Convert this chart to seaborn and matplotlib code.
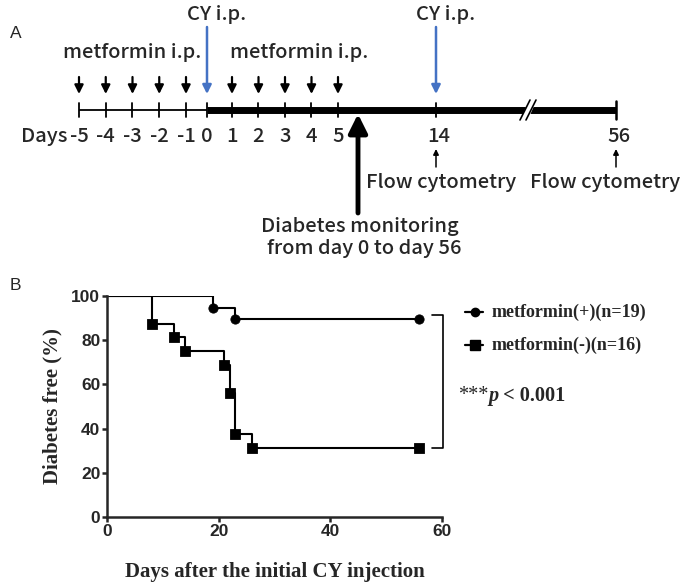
import numpy as np
import matplotlib
matplotlib.use('Agg')
import matplotlib.pyplot as plt
import seaborn as sns

# Panel B: Kaplan-Meier style diabetes-free curves
plus_days = [0, 19, 23, 56]
plus_free = [100, 94.7, 89.5, 89.5]
minus_days = [0, 8, 12, 14, 21, 22, 23, 26, 56]
minus_free = [100, 87.5, 81.25, 75, 68.75, 56.25, 37.5, 31.25, 31.25]
plus_label = 'metformin(+)(n=19)'
minus_label = 'metformin(-)(n=16)'
p_text = ['***', 'p', ' < 0.001']

# Panel A: timeline
tick_days = [-5, -4, -3, -2, -1, 0, 1, 2, 3, 4, 5, 14, 56]
metformin_days = [-5, -4, -3, -2, -1, 1, 2, 3, 4, 5]
cy_days = [0, 14]
flow_days = [14, 56]

sns.set_style('ticks')
plt.rcParams['font.family'] = ['Liberation Sans', 'DejaVu Sans']

fig = plt.figure(figsize=(6.85, 5.82), dpi=100)

# overlay axes in pixel coordinates for the timeline drawing
ax0 = fig.add_axes([0, 0, 1, 1])
ax0.set_xlim(0, 685)
ax0.set_ylim(582, 0)
ax0.axis('off')

knot_days = [-5, -1, 0, 1, 5, 14, 56]
knot_px = [79, 186, 207, 232, 338, 436, 616]


def dx(d):
    return np.interp(d, knot_days, knot_px)


jp = dict(family=['Noto Sans CJK JP', 'DejaVu Sans'], fontsize=14.5, weight='medium')
LY = 110

ax0.plot([dx(-5), dx(0)], [LY, LY], color='black', lw=1.3, solid_capstyle='butt')
ax0.plot([dx(0), dx(56)], [LY, LY], color='black', lw=5, solid_capstyle='butt')
for d in tick_days[:-1]:
    ax0.plot([dx(d), dx(d)], [LY - 7, LY + 7], color='black', lw=1.3)
ax0.plot([dx(56), dx(56)], [LY - 9, LY + 9], color='black', lw=1.8)

# axis break
ax0.fill([521, 530, 536, 527], [120, 100, 100, 120], color='white', zorder=3)
ax0.plot([520, 530], [120, 100], color='black', lw=1.2, zorder=4)
ax0.plot([526, 536], [120, 100], color='black', lw=1.2, zorder=4)

# tick labels
ax0.text(44, 137, 'Days', ha='center', va='center', **jp)
for d in tick_days:
    ax0.text(dx(d) + (3 if d >= 14 else 0), 137, str(d), ha='center', va='center', **jp)

# metformin injections
for d in metformin_days:
    ax0.annotate('', xy=(dx(d), 94), xytext=(dx(d), 77),
                 arrowprops=dict(arrowstyle='-|>', color='black', lw=1.6,
                                 mutation_scale=13, shrinkA=0, shrinkB=0))
ax0.text(132, 53, 'metformin i.p.', ha='center', va='center', **jp)
ax0.text(299, 53, 'metformin i.p.', ha='center', va='center', **jp)

# CY injections
for d in cy_days:
    ax0.annotate('', xy=(dx(d), 94), xytext=(dx(d), 27),
                 arrowprops=dict(arrowstyle='-|>', color='#4472C4', lw=1.8,
                                 mutation_scale=13, shrinkA=0, shrinkB=0))
    ax0.text(dx(d) + 10, 15, 'CY i.p.', ha='center', va='center', **jp)

# flow cytometry
for d, tx in zip(flow_days, [441, 605]):
    ax0.annotate('', xy=(dx(d), 149), xytext=(dx(d), 167),
                 arrowprops=dict(arrowstyle='-|>', color='black', lw=1.1,
                                 mutation_scale=8, shrinkA=0, shrinkB=0))
    ax0.text(tx, 182, 'Flow cytometry', ha='center', va='center', **jp)

# diabetes monitoring
ax0.annotate('', xy=(358, 114), xytext=(358, 213),
             arrowprops=dict(arrowstyle='-|>', color='black', lw=3.5,
                             mutation_scale=28, shrinkA=0, shrinkB=0))
ax0.text(360, 226, 'Diabetes monitoring', ha='center', va='center', **jp)
ax0.text(364, 248, 'from day 0 to day 56', ha='center', va='center', **jp)

fig.text(10 / 685, 1 - 33 / 582, 'A', fontsize=12.5, ha='left', va='center')
fig.text(10 / 685, 1 - 285 / 582, 'B', fontsize=12.5, ha='left', va='center')

# Panel B
ax = fig.add_axes([107 / 685, 65 / 582, 334.7 / 685, 221 / 582])
ax.set_facecolor('none')
sns.lineplot(x=plus_days, y=plus_free, drawstyle='steps-post', color='black',
             lw=1.5, ax=ax, estimator=None, sort=False)
sns.lineplot(x=minus_days, y=minus_free, drawstyle='steps-post', color='black',
             lw=1.5, ax=ax, estimator=None, sort=False)
sns.scatterplot(x=plus_days[1:], y=plus_free[1:], marker='o', s=45, color='black',
                edgecolor='black', ax=ax, clip_on=False, zorder=3)
sns.scatterplot(x=minus_days[1:], y=minus_free[1:], marker='s', s=55, color='black',
                edgecolor='black', ax=ax, clip_on=False, zorder=3)

ax.set_xlim(0, 60)
ax.set_ylim(0, 100)
ax.set_xticks([0, 20, 40, 60])
ax.set_yticks([0, 20, 40, 60, 80, 100])
sns.despine(ax=ax)
for s in ['left', 'bottom']:
    ax.spines[s].set_linewidth(1.8)
ax.tick_params(direction='out', length=3.8, width=1.8, labelsize=12.5, pad=1)
for lab in ax.get_xticklabels() + ax.get_yticklabels():
    lab.set_fontweight('bold')

serif = dict(family=['Liberation Serif', 'DejaVu Serif'], weight='bold')
ax.set_xlabel('Days after the initial CY injection', fontsize=15, **serif)
ax.set_ylabel('Diabetes free (%)', fontsize=15, **serif)
ax.xaxis.set_label_coords(0.502, -0.205)
ax.yaxis.set_label_coords(-0.134, 0.5)

# bracket
ax.plot([58.2, 60.2, 60.2, 58.2], [91.4, 91.4, 31.25, 31.25], color='black',
        lw=1.2, clip_on=False)

# legend
for yv, mk, ms, lab in [(92.8, 'o', 6, plus_label), (77.8, 's', 6.5, minus_label)]:
    ax.plot([64.2, 67.4], [yv, yv], color='black', lw=1.6, clip_on=False)
    ax.plot([66.0], [yv], marker=mk, ms=ms, color='black', clip_on=False)
    ax.text(69.0, yv, lab, fontsize=13, ha='left', va='center', **serif)

# p-value text
fig.canvas.draw()
r = fig.canvas.get_renderer()
x0 = 458
styles = [dict(weight='normal', style='normal'), dict(weight='bold', style='italic'),
          dict(weight='bold', style='normal')]
for t, st in zip(p_text, styles):
    tt = ax0.text(x0, 396, t, fontsize=14.6, ha='left', va='center',
                  family=['Liberation Serif', 'DejaVu Serif'], **st)
    bb = tt.get_window_extent(renderer=r)
    x0 += bb.width

fig.savefig('out.png', dpi=100)
